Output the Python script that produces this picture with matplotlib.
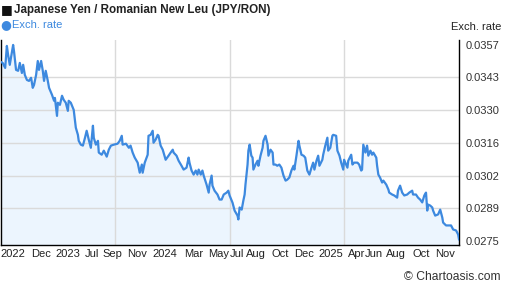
import numpy as np
import matplotlib
matplotlib.use("Agg")
from matplotlib import pyplot as plt

plt.rcParams['font.family'] = ['Liberation Sans', 'DejaVu Sans']

# days since start of the 3-year window (~Nov 2022) and JPY/RON rate
days = [0, 4, 10, 14, 17, 21, 29, 31, 36, 41, 45, 50, 53, 57, 62, 67, 72, 76, 79, 84,
        88, 91, 96, 100, 103, 107, 112, 115, 122, 127, 129, 134, 136, 141, 146, 150, 155, 160, 162, 167,
        172, 174, 179, 184, 186, 191, 196, 201, 205, 210, 215, 220, 222, 227, 232, 234, 241, 246, 253, 258,
        263, 270, 279, 284, 289, 291, 299, 306, 310, 315, 320, 327, 332, 337, 339, 344, 351, 353, 358, 363,
        365, 370, 375, 377, 382, 387, 394, 401, 406, 411, 413, 420, 425, 432, 437, 444, 449, 451, 456, 461,
        466, 470, 473, 478, 482, 485, 492, 497, 499, 504, 506, 511, 518, 523, 528, 533, 540, 544, 547, 554,
        559, 566, 568, 571, 576, 580, 583, 585, 590, 592, 595, 599, 602, 604, 609, 614, 616, 621, 626, 628,
        633, 638, 640, 645, 650, 652, 657, 661, 666, 671, 676, 681, 685, 690, 695, 700, 702, 707, 712, 714,
        719, 724, 728, 731, 733, 738, 743, 747, 750, 755, 759, 762, 769, 771, 776, 781, 783, 788, 793, 795,
        802, 805, 810, 814, 819, 821, 829, 831, 838, 841, 845, 853, 857, 862, 864, 867, 872, 876, 879, 884,
        888, 891, 898, 900, 903, 907, 912, 915, 922, 927, 929, 936, 941, 948, 950, 955, 960, 965, 972, 977,
        984, 986, 993, 998, 1003, 1008, 1013, 1017, 1020, 1022, 1027, 1032, 1034, 1039, 1046, 1051, 1056, 1058, 1065, 1070,
        1077, 1082, 1089, 1094, 1096]
rate = [0.03497, 0.03493, 0.03472, 0.03564, 0.03526, 0.03485, 0.03568, 0.03543, 0.03464, 0.03460,
        0.03493, 0.03451, 0.03485, 0.03443, 0.03422, 0.03418, 0.03431, 0.03389, 0.03401, 0.03443,
        0.03501, 0.03464, 0.03501, 0.03460, 0.03418, 0.03460, 0.03418, 0.03389, 0.03360, 0.03335,
        0.03347, 0.03272, 0.03327, 0.03318, 0.03356, 0.03339, 0.03327, 0.03293, 0.03335, 0.03327,
        0.03306, 0.03297, 0.03223, 0.03193, 0.03168, 0.03152, 0.03148, 0.03181, 0.03210, 0.03173,
        0.03139, 0.03231, 0.03181, 0.03152, 0.03168, 0.03119, 0.03110, 0.03127, 0.03102, 0.03131,
        0.03148, 0.03152, 0.03156, 0.03168, 0.03189, 0.03152, 0.03156, 0.03139, 0.03148, 0.03119,
        0.03098, 0.03077, 0.03035, 0.03069, 0.03035, 0.03077, 0.03110, 0.03189, 0.03193, 0.03210,
        0.03160, 0.03173, 0.03193, 0.03189, 0.03148, 0.03131, 0.03089, 0.03106, 0.03119, 0.03131,
        0.03119, 0.03106, 0.03085, 0.03064, 0.03048, 0.03056, 0.03098, 0.03077, 0.03044, 0.03027,
        0.03044, 0.03027, 0.03048, 0.03027, 0.03044, 0.03023, 0.02985, 0.02952, 0.02985, 0.03023,
        0.02981, 0.02960, 0.02944, 0.02923, 0.02923, 0.02944, 0.02952, 0.02960, 0.02940, 0.02910,
        0.02877, 0.02856, 0.02840, 0.02890, 0.02881, 0.02919, 0.02944, 0.02985, 0.03069, 0.03127,
        0.03152, 0.03106, 0.03098, 0.03048, 0.03069, 0.03085, 0.03064, 0.03106, 0.03139, 0.03168,
        0.03189, 0.03152, 0.03106, 0.03131, 0.03119, 0.03069, 0.03069, 0.03064, 0.03069, 0.03056,
        0.03023, 0.03002, 0.03006, 0.03015, 0.03044, 0.03064, 0.03048, 0.03106, 0.03168, 0.03148,
        0.03110, 0.03106, 0.03098, 0.03064, 0.03044, 0.03027, 0.03056, 0.03077, 0.03048, 0.03085,
        0.03106, 0.03064, 0.03089, 0.03110, 0.03148, 0.03181, 0.03127, 0.03139, 0.03189, 0.03193,
        0.03189, 0.03127, 0.03106, 0.03077, 0.03048, 0.03089, 0.03056, 0.03085, 0.03110, 0.03069,
        0.03077, 0.03077, 0.03069, 0.03044, 0.03048, 0.03152, 0.03119, 0.03148, 0.03106, 0.03127,
        0.03110, 0.03119, 0.03098, 0.03064, 0.03027, 0.03015, 0.02994, 0.03002, 0.02985, 0.02965,
        0.02952, 0.02944, 0.02940, 0.02931, 0.02960, 0.02981, 0.02952, 0.02940, 0.02944, 0.02952,
        0.02960, 0.02944, 0.02944, 0.02931, 0.02923, 0.02911, 0.02940, 0.02952, 0.02877, 0.02902,
        0.02898, 0.02890, 0.02877, 0.02856, 0.02861, 0.02881, 0.02848, 0.02827, 0.02815, 0.02815,
        0.02815, 0.02798, 0.02794, 0.02777, 0.02757]

y_ticks = [0.0275, 0.028865, 0.03023, 0.031595, 0.03296, 0.034325, 0.03569]
x_labels = ['2022', 'Dec', '2023', 'Jul', 'Sep', 'Nov', '2024', 'Mar', 'May', 'Jul',
            'Aug', 'Oct', 'Dec', '2025', 'Apr', 'Jun', 'Aug', 'Oct', 'Nov']
# label centres as fraction of the axis width
x_label_frac = [0.026, 0.088, 0.147, 0.199, 0.244, 0.297, 0.358, 0.421, 0.475, 0.516,
                0.557, 0.610, 0.662, 0.721, 0.776, 0.815, 0.863, 0.917, 0.969]

W, H = 507, 288
fig = plt.figure(figsize=(W / 100, H / 100), dpi=100)
ax = fig.add_axes([1 / W, 43 / H, 458 / W, 205 / H])

line_c = '#3d89df'
ax.fill_between(days, rate, 0.0273, color='#ecf5fe', zorder=1)
ax.plot(days, rate, color=line_c, lw=1.6, zorder=3)

xmax = 1096
ax.set_xlim(0, xmax)
ax.set_ylim(0.027334, 0.035886)

ax.set_yticks(y_ticks)
ax.set_yticklabels(['%.4f' % t for t in y_ticks])
ax.yaxis.tick_right()
ax.tick_params(axis='y', length=0, pad=4.5, labelsize=8, labelcolor='#333333')
ax.set_xticks([f * xmax for f in x_label_frac])
ax.set_xticklabels(x_labels)
ax.tick_params(axis='x', length=0, pad=3, labelsize=8, labelcolor='#222222')

# gridlines
for t in y_ticks[1:-1]:
    ax.axhline(t, color='#dadada', lw=1, zorder=2)
for q in [0.25, 0.5, 0.75]:
    ax.axvline(q * xmax, color='#dadada', lw=1, zorder=2)

for s in ['left', 'bottom', 'right']:
    ax.spines[s].set_color('black')
    ax.spines[s].set_linewidth(1)
ax.spines['top'].set_visible(False)

def px(x, y):
    return x / W, 1 - y / H

fig.text(*px(1, 10), '■', family='DejaVu Sans', fontsize=9, va='center', ha='left', color='#111111')
fig.text(*px(14, 10), 'Japanese Yen / Romanian New Leu (JPY/RON)', fontsize=8.4, fontweight='bold',
         va='center', ha='left', color='#222222')
fig.text(*px(0, 25), '●', family='DejaVu Sans', fontsize=9, va='center', ha='left', color=line_c)
fig.text(*px(12, 25), 'Exch. rate', fontsize=8, va='center', ha='left', color=line_c)
fig.text(*px(501, 27), 'Exch. rate', fontsize=8, va='center', ha='right', color='#222222')
fig.text(*px(501, 277), '© Chartoasis.com', fontsize=8.7, va='center', ha='right', color='#333333')

fig.savefig('out.png', dpi=100)
